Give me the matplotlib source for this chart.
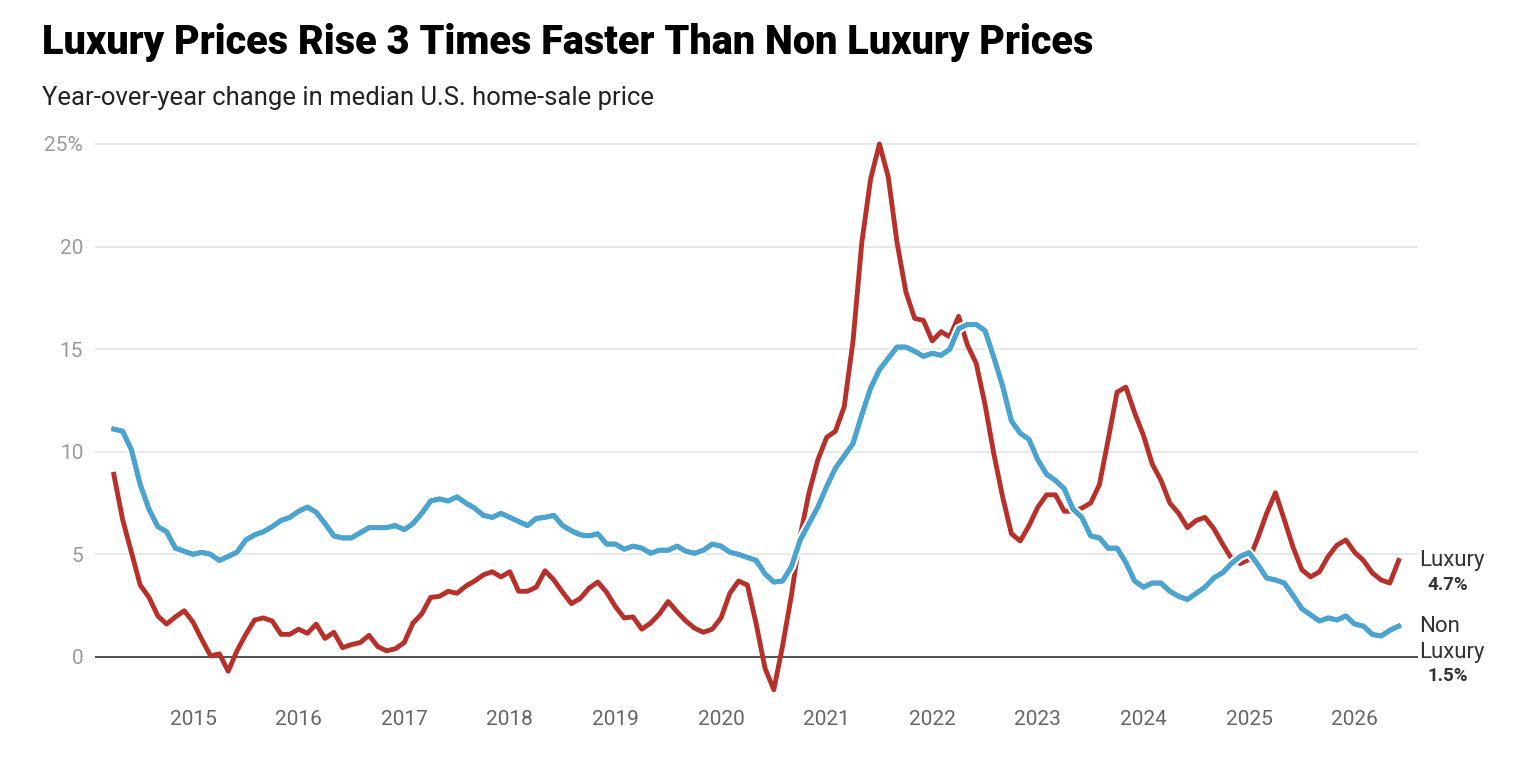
import matplotlib
matplotlib.use("Agg")
import matplotlib.pyplot as plt
import matplotlib.patheffects as pe
import numpy as np

plt.rcParams['font.family'] = ['Roboto', 'DejaVu Sans']

title = "Luxury Prices Rise 3 Times Faster Than Non Luxury Prices"
subtitle = "Year-over-year change in median U.S. home-sale price"

start_year = 2014.25  # first monthly observation
year_ticks = [2015, 2016, 2017, 2018, 2019, 2020, 2021, 2022, 2023, 2024, 2025, 2026]
y_ticks = [0, 5, 10, 15, 20, 25]
y_tick_labels = ["0", "5", "10", "15", "20", "25%"]

non_luxury = [
    11.1, 11.0, 10.1, 8.4, 7.2, 6.35, 6.1, 5.3, 5.15, 5.0,
    5.1, 5.0, 4.7, 4.9, 5.1, 5.7, 5.95, 6.1, 6.35, 6.65,
    6.8, 7.1, 7.3, 7.05, 6.5, 5.9, 5.8, 5.8, 6.05, 6.3,
    6.3, 6.3, 6.4, 6.2, 6.5, 7.0, 7.6, 7.7, 7.6, 7.8,
    7.5, 7.25, 6.9, 6.8, 7.0, 6.8, 6.6, 6.4, 6.75, 6.8,
    6.9, 6.4, 6.15, 5.95, 5.9, 6.0, 5.5, 5.5, 5.25, 5.4,
    5.3, 5.05, 5.2, 5.2, 5.4, 5.15, 5.05, 5.2, 5.5, 5.4,
    5.1, 5.0, 4.85, 4.7, 4.05, 3.65, 3.7, 4.4, 5.7, 6.5,
    7.3, 8.3, 9.2, 9.8, 10.4, 11.8, 13.1, 14.0, 14.55, 15.1,
    15.1, 14.9, 14.65, 14.8, 14.7, 15.0, 16.0, 16.2, 16.2, 15.9,
    14.6, 13.2, 11.5, 10.9, 10.6, 9.6, 8.9, 8.6, 8.2, 7.2,
    6.8, 5.9, 5.8, 5.3, 5.3, 4.6, 3.7, 3.4, 3.6, 3.6,
    3.2, 2.95, 2.8, 3.1, 3.4, 3.85, 4.1, 4.55, 4.9, 5.08,
    4.5, 3.85, 3.75, 3.6, 3.0, 2.35, 2.05, 1.75, 1.9, 1.8,
    2.0, 1.6, 1.5, 1.1, 1.02, 1.3, 1.5,
]

luxury = [
    8.9, 6.7, 5.1, 3.5, 2.9, 2.0, 1.6, 1.95, 2.25, 1.7,
    0.85, 0.05, 0.15, -0.7, 0.3, 1.1, 1.8, 1.9, 1.75, 1.1,
    1.1, 1.35, 1.15, 1.6, 0.9, 1.2, 0.45, 0.6, 0.7, 1.05,
    0.5, 0.3, 0.4, 0.7, 1.65, 2.1, 2.9, 2.95, 3.2, 3.1,
    3.45, 3.7, 4.0, 4.15, 3.9, 4.15, 3.2, 3.2, 3.4, 4.2,
    3.75, 3.15, 2.6, 2.85, 3.35, 3.65, 3.15, 2.45, 1.9, 1.95,
    1.35, 1.65, 2.1, 2.7, 2.2, 1.75, 1.4, 1.2, 1.35, 1.9,
    3.1, 3.7, 3.5, 1.6, -0.55, -1.6, 0.55, 3.0, 5.9, 8.0,
    9.6, 10.7, 11.0, 12.2, 15.4, 20.2, 23.3, 25.0, 23.4, 20.2,
    17.8, 16.5, 16.4, 15.4, 15.85, 15.6, 16.6, 15.2, 14.3, 12.3,
    9.9, 7.8, 6.0, 5.65, 6.4, 7.3, 7.9, 7.9, 7.1, 7.1,
    7.25, 7.5, 8.4, 10.6, 12.9, 13.15, 11.9, 10.8, 9.4, 8.6,
    7.5, 7.0, 6.3, 6.65, 6.8, 6.25, 5.5, 4.8, 4.55, 4.75,
    5.8, 7.0, 8.0, 6.7, 5.35, 4.25, 3.9, 4.15, 4.9, 5.45,
    5.7, 5.1, 4.7, 4.1, 3.75, 3.6, 4.7,
]

red = "#b8302a"
blue = "#4ba3cf"

x = start_year + np.arange(len(luxury)) / 12.0

fig = plt.figure(figsize=(15.36, 7.58), dpi=100)
ax = fig.add_axes([95 / 1536, 1 - 700 / 758, (1418 - 95) / 1536, (700 - 133.7) / 758])

ax.set_xlim(2014.072, 2026.600)
ax.set_ylim(-2.1, 25.5)

for yv in y_ticks[1:]:
    ax.axhline(yv, color="#e6e6e6", lw=1.3, zorder=0)
ax.axhline(0, color="#222222", lw=1.1, zorder=1)

ax.plot(x, luxury, color=red, lw=3.5, zorder=3, clip_on=False)
ax.plot(x, non_luxury, color=blue, lw=3.5, zorder=4, clip_on=False,
        path_effects=[pe.withStroke(linewidth=6.8, foreground="white"), pe.Normal()])

for s in ax.spines.values():
    s.set_visible(False)

ax.set_xticks(year_ticks)
ax.set_xticklabels([str(y) for y in year_ticks])
ax.set_yticks(y_ticks)
ax.set_yticklabels(y_tick_labels)
ax.tick_params(axis="x", length=0, pad=7, labelsize=15, labelcolor="#666666")
ax.tick_params(axis="y", length=0, pad=8.5, labelsize=15, labelcolor="#9a9a9a")

# end labels
lx = x[-1]
lab_kw = dict(textcoords="offset points", color="#333333", ha="left", va="center",
              annotation_clip=False)
ax.annotate("Luxury", xy=(lx, luxury[-1]), xytext=(15, 0), fontsize=16, **lab_kw)
ax.annotate(f"{luxury[-1]:.1f}%", xy=(lx, luxury[-1]), xytext=(21, -18), fontsize=13.5,
            fontweight="bold", **lab_kw)
ax.annotate("Non", xy=(lx, non_luxury[-1]), xytext=(15, 0), fontsize=16, **lab_kw)
ax.annotate("Luxury", xy=(lx, non_luxury[-1]), xytext=(15, -18.7), fontsize=16, **lab_kw)
ax.annotate(f"{non_luxury[-1]:.1f}%", xy=(lx, non_luxury[-1]), xytext=(21, -36), fontsize=13.5,
            fontweight="bold", **lab_kw)

fig.text(42 / 1536, 1 - 42 / 758, title, fontsize=28.5, fontweight=900, color="#000000",
         ha="left", va="center")
fig.text(42 / 1536, 1 - 98 / 758, subtitle, fontsize=18.45, color="#222222",
         ha="left", va="center")

fig.savefig("out.png", dpi=100, facecolor="white")
